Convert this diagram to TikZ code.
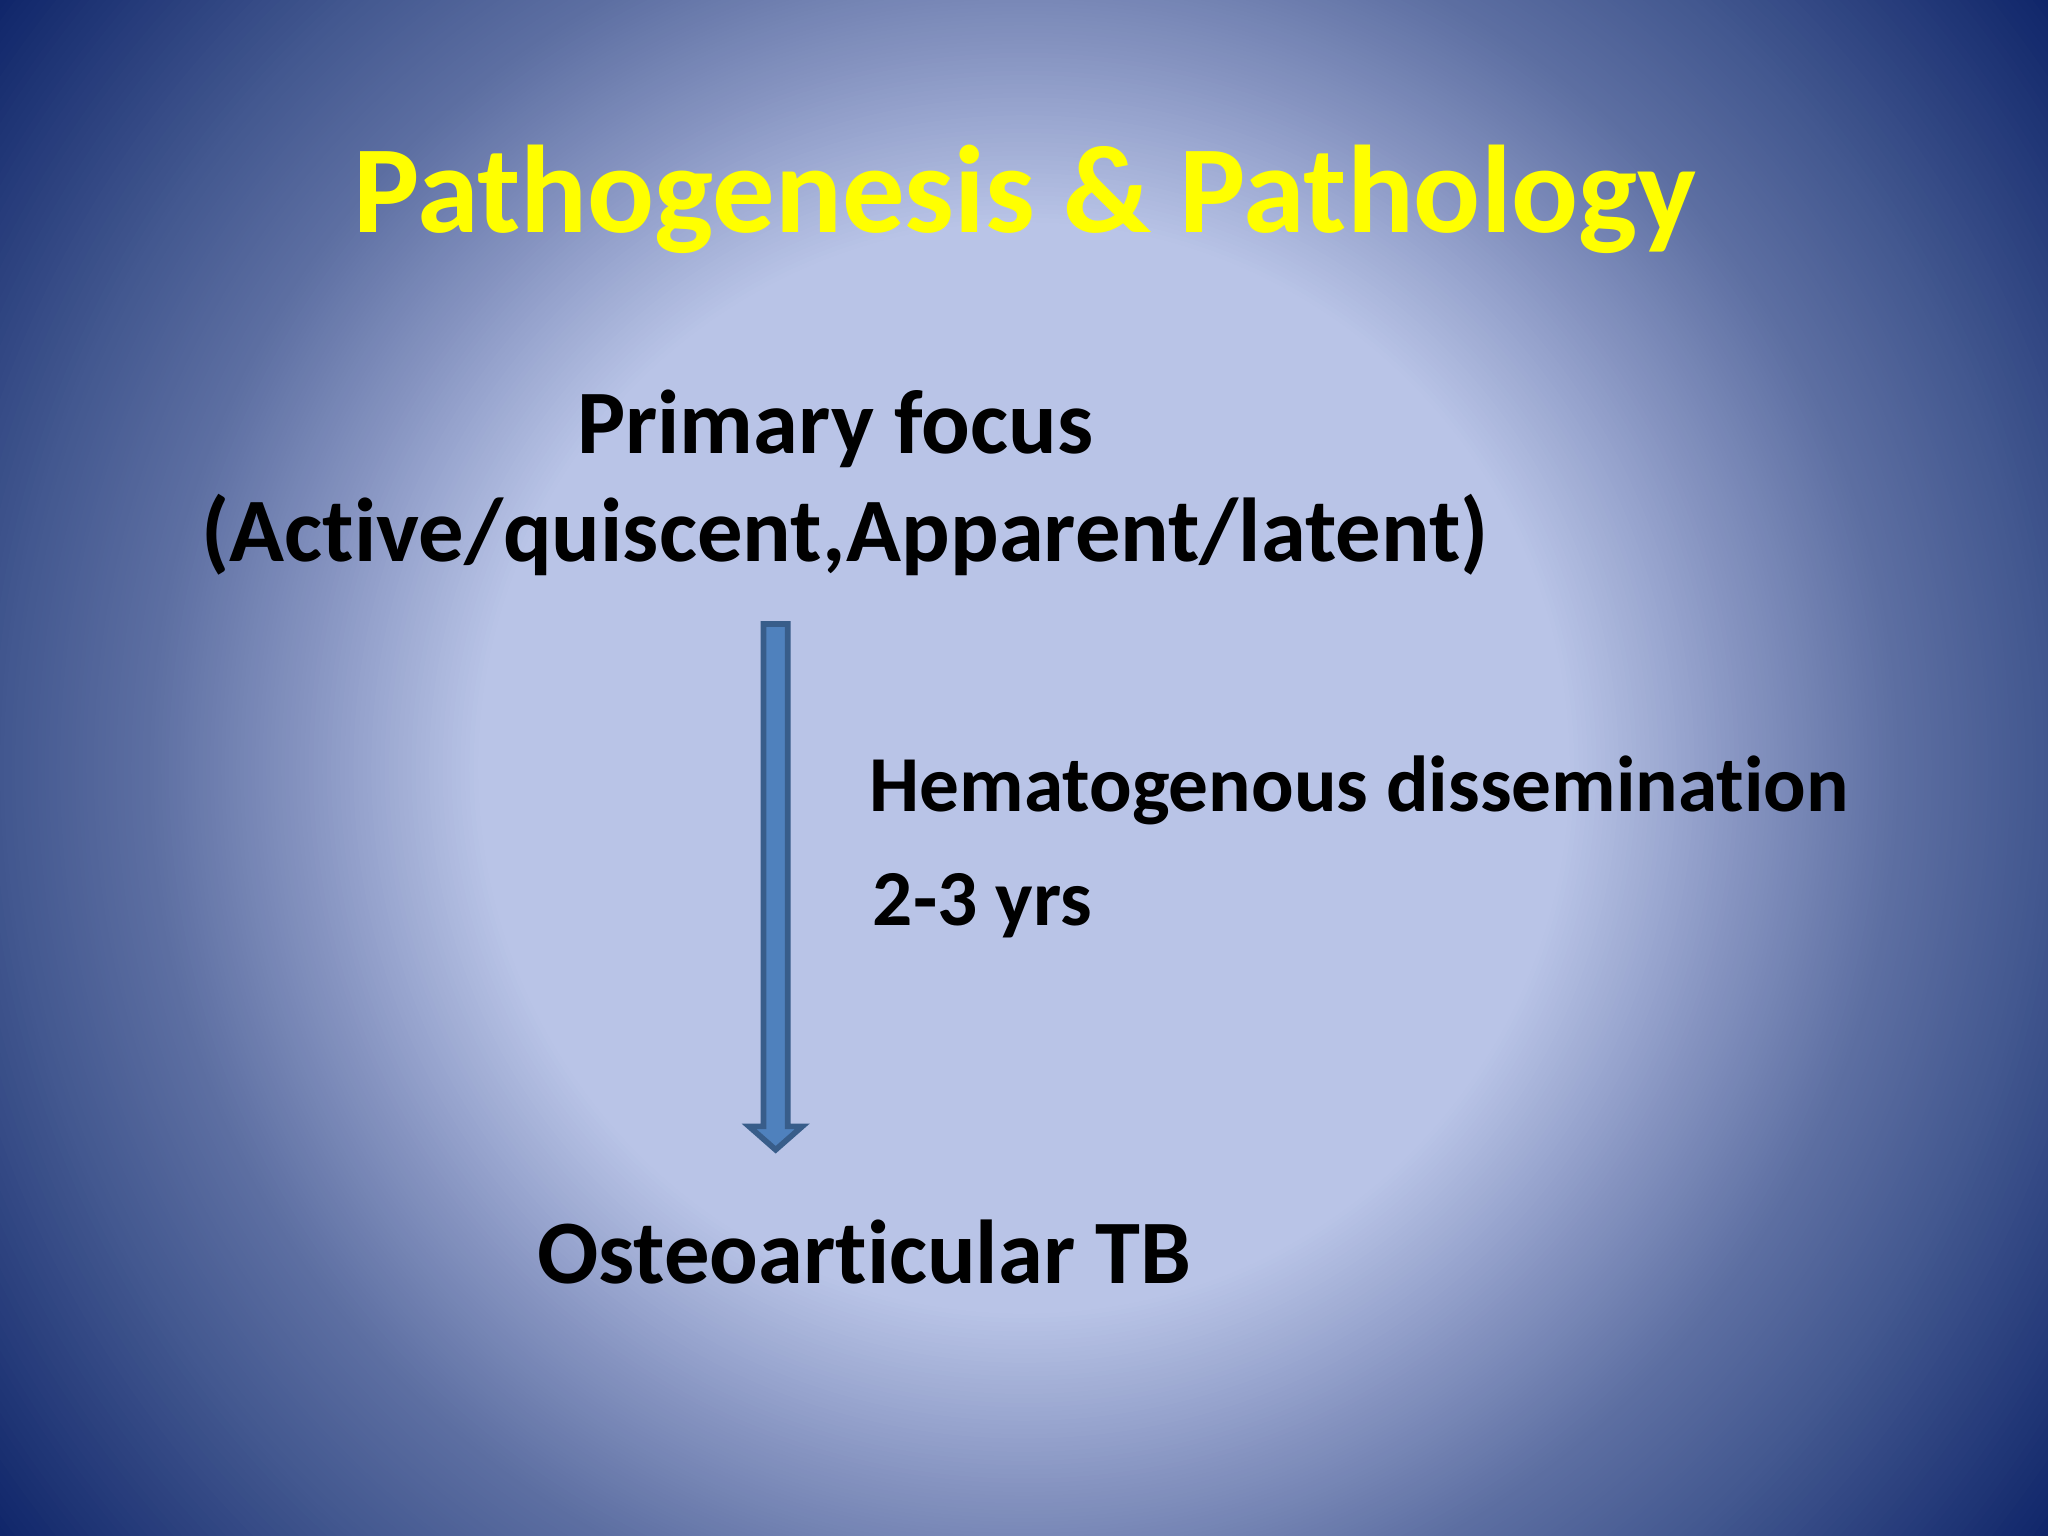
\documentclass[tikz,border=0pt]{standalone}
\usepackage{fontspec}
\setmainfont[Ligatures=NoCommon]{Carlito}
\usetikzlibrary{calc,positioning}

\definecolor{bglight}{HTML}{B9C4E7}
\definecolor{bgring}{HTML}{8593C0}
\definecolor{bgouter}{HTML}{5D6FA2}
\definecolor{bgedge}{HTML}{42578F}
\definecolor{bgcorner}{HTML}{10266A}
\definecolor{bgdeep}{HTML}{0A1F5E}
\definecolor{arrowfill}{HTML}{4F81BD}
\definecolor{arrowline}{HTML}{385D8A}
\definecolor{titleyellow}{HTML}{FFFF00}

\begin{document}
\begin{tikzpicture}
	\tikzstyle{every node}=[inner sep=0pt, text=black]
	\tikzstyle{title}=[font=\fontsize{44}{53}\selectfont\bfseries, text=titleyellow, anchor=base]
	\tikzstyle{body}=[font=\fontsize{32}{38}\selectfont\bfseries, anchor=base]
	\tikzstyle{side}=[font=\fontsize{28}{34}\selectfont\bfseries, anchor=base west]
	\tikzstyle{blockarrow}=[draw=arrowline, fill=arrowfill, line width=2pt, line join=miter]

	\useasboundingbox (0,0) rectangle (25.4,19.05);
	% radial slide background, drawn as rings from the outside in
	\begin{scope}
		\clip (0,0) rectangle (25.4,19.05);
		\fill[bgdeep] (0,0) rectangle (25.4,19.05);
		\coordinate (mid) at (12.7,9.525);
		\foreach \ra/\rb/\ca/\cb in {17.36/15.88/bgdeep/bgcorner, 15.88/12.70/bgcorner/bgedge,
			12.70/10.84/bgedge/bgouter, 10.84/8.98/bgouter/bgring, 8.98/6.77/bgring/bglight}
			\foreach \i in {0,...,39} {
				\pgfmathsetmacro\rr{\ra-(\ra-\rb)*\i/40}
				\pgfmathsetmacro\pp{100*\i/40}
				\fill[\cb!\pp!\ca] (mid) circle (\rr);
			}
		\fill[bglight] (mid) circle (6.77);
	\end{scope}

	\node[title] (T) at (12.71,16.17) {Pathogenesis \& Pathology};
	\node[body] (P) at (10.36,13.42) {Primary focus};
	\node[body] (A) at (10.48,12.08) {(Active/quiscent,Apparent/latent)};
	\node[side] (H) at (10.78,8.99) {Hematogenous dissemination};
	\node[side] (Y) at (10.82,7.57) {2-3 yrs};
	\node[body] (O) at (10.72,3.13) {Osteoarticular TB};

	% block arrow from the focus down to the bone
	\coordinate (top) at (9.62,11.31);
	\coordinate (tip) at (9.62,4.79);
	\draw[blockarrow] ($(top)+(-0.15,0)$) -- ($(tip)+(-0.15,0.29)$)
		-- ($(tip)+(-0.33,0.29)$) -- (tip) -- ($(tip)+(0.33,0.29)$)
		-- ($(tip)+(0.15,0.29)$) -- ($(top)+(0.15,0)$) -- cycle;
\end{tikzpicture}
\end{document}
